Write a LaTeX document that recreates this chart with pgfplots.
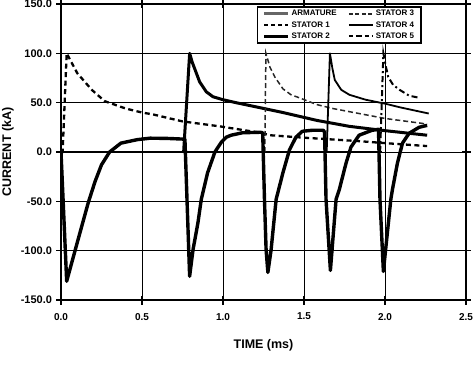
\documentclass[border=0pt]{standalone}
\usepackage{fontspec}
\setmainfont{Liberation Sans}
\usepackage{pgfplots}
\pgfplotsset{compat=1.18}
\begin{document}
\begin{tikzpicture}
\begin{axis}[
  at={(0pt,0pt)}, anchor=south west,
  scale only axis, width=405pt, height=296pt,
  xmin=0, xmax=2.5, ymin=-150, ymax=150,
  xtick={0,0.5,1,1.5,2,2.5},
  xticklabels={0.0,0.5,1.0,1.5,2.0,2.5},
  ytick={-150,-100,-50,0,50,100,150},
  yticklabels={-150.0,-100.0,-50.0,0.0,50.0,100.0,150.0},
  grid=major,
  major grid style={black, line width=0.8pt},
  axis line style={line width=1.8pt},
  tick style={black, line width=1.2pt},
  tick align=center, major tick length=9pt,
  x tick label style={font=\bfseries\fontsize{10}{12}\selectfont, yshift=-5pt},
  y tick label style={font=\bfseries\fontsize{11}{13}\selectfont, xshift=-1pt},
  xlabel={TIME (ms)}, ylabel={CURRENT (kA)},
  label style={font=\bfseries\fontsize{12.5}{14}\selectfont},
  xlabel style={at={(axis description cs:0.5,-0.152)}, anchor=center},
  ylabel style={at={(axis description cs:-0.131,0.5)}, anchor=center},
  legend columns=2,
  legend image code/.code={\draw[#1] (0pt,0pt) -- (24pt,0pt);},
  legend style={draw=black, line width=1.6pt, at={(0.891,0.993)}, anchor=north east,
    font=\bfseries\fontsize{8}{9.5}\selectfont, inner xsep=5pt, inner ysep=1.5pt,
    /tikz/every even column/.append style={column sep=9pt}},
  legend cell align=left,
]
% pre-firing stator currents at zero
\addplot[forget plot, black, line width=2.6pt] coordinates {(0,0) (1.98,0)};
% Stator 1
\addplot[forget plot, black, line width=2.3pt, dash pattern=on 5pt off 3.5pt] coordinates {
(0,0) (0.01,0) (0.035,100) (0.10,80) (0.19,63) (0.27,51.5) (0.4,44) (0.5,40) (0.57,38)
(0.75,31) (0.98,26) (1.23,19.5) (1.29,17) (1.5,14.5) (1.84,11) (2.0,9) (2.26,6)};
% Stator 2
\addplot[forget plot, black, line width=3.0pt, line join=round] coordinates {
(0.757,0) (0.794,100) (0.81,91) (0.825,84.5) (0.856,71) (0.897,61) (0.938,56) (1.0,53)
(1.08,50) (1.153,47.5) (1.37,40) (1.58,32) (1.78,26) (1.98,22) (2.26,17)};
% Stator 3
\addplot[forget plot, black!85, line width=1.5pt, dash pattern=on 5pt off 3pt] coordinates {
(1.258,0) (1.265,100) (1.29,86) (1.32,76) (1.37,64) (1.42,58) (1.47,55) (1.58,48) (1.68,44) (1.84,39)
(2.0,34) (2.23,29) (2.26,28)};
% Stator 4
\addplot[forget plot, black, line width=1.8pt, line join=round] coordinates {
(1.64,0) (1.66,100) (1.675,85) (1.69,73) (1.73,63) (1.78,58) (1.88,53) (1.94,51) (2.0,49)
(2.1,45) (2.27,39)};
% Stator 5
\addplot[forget plot, black, line width=2.0pt, dash pattern=on 6pt off 3pt on 2pt off 3pt] coordinates {
(1.97,0) (1.99,100) (2.005,87) (2.02,76) (2.05,68) (2.09,63) (2.15,57) (2.21,55)};
% Armature
\addplot[forget plot, black, line width=3.4pt, line join=round] coordinates {
(0,0) (0.035,-131) (0.10,-92) (0.168,-51.5) (0.21,-30) (0.25,-13) (0.30,0) (0.37,9)
(0.47,12.5) (0.55,14) (0.65,13.8) (0.765,13) (0.794,-126) (0.815,-99) (0.845,-72)
(0.866,-48) (0.905,-21) (0.95,0) (0.99,10) (1.02,15) (1.05,17) (1.12,19.5) (1.23,20)
(1.245,19.5) (1.256,-48) (1.266,-99) (1.277,-122) (1.297,-99) (1.328,-48) (1.37,-21)
(1.41,2) (1.45,15) (1.49,21) (1.55,22) (1.62,22) (1.627,20) (1.636,-48) (1.663,-120)
(1.698,-48) (1.718,-38) (1.76,-11) (1.79,5) (1.84,17) (1.92,22) (1.96,23) (1.969,-48)
(1.99,-121) (2.036,-48) (2.046,-38) (2.077,-11) (2.108,9) (2.149,19) (2.21,25) (2.26,27)};
% legend
\addlegendimage{black!60, line width=3pt}
\addlegendentry{ARMATURE}
\addlegendimage{black!85, line width=1.5pt, dash pattern=on 4pt off 2.5pt}
\addlegendentry{STATOR 3}
\addlegendimage{black, line width=2.2pt, dash pattern=on 4pt off 3pt}
\addlegendentry{STATOR 1}
\addlegendimage{black, line width=1.8pt}
\addlegendentry{STATOR 4}
\addlegendimage{black, line width=3.0pt}
\addlegendentry{STATOR 2}
\addlegendimage{black, line width=2.0pt, dash pattern=on 4pt off 3pt on 6pt off 3pt}
\addlegendentry{STATOR 5}
\node[anchor=east, font=\fontsize{7.5}{8}\selectfont, inner sep=0pt] at (axis description cs:1.005,-0.213) {2604.0081};
\end{axis}
\pgfresetboundingbox
\path (-61pt,-72pt) rectangle (413pt,300pt);
\end{tikzpicture}
\end{document}
